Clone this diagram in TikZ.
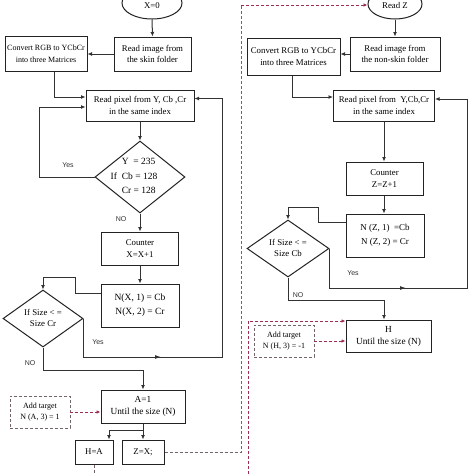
\documentclass[tikz,border=0pt]{standalone}
\usepackage{fontspec}
\setmainfont{Liberation Serif}
\newfontfamily\labfont{Liberation Sans}
\usetikzlibrary{shapes.geometric,arrows.meta,calc,decorations.markings}
\definecolor{linec}{RGB}{50,50,50}
\definecolor{boxc}{RGB}{35,35,35}
\definecolor{dred}{RGB}{155,45,80}
\definecolor{dgray}{RGB}{115,100,108}
\begin{document}
\begin{tikzpicture}[x=1pt,y=-1pt,
  font=\fontsize{8.8}{11.5}\selectfont,
  ln/.style={draw=linec, line width=1pt},
  arr/.style={ln, -{Latex[length=4.5pt,width=4pt]}},
  box/.style={draw=boxc, line width=1pt, fill=white, align=center, inner sep=0pt},
  dbox/.style={draw=dgray, line width=0.9pt, dash pattern=on 3pt off 2pt, align=center, inner sep=0pt, font=\fontsize{8}{10.5}\selectfont},
  dia/.style={diamond, draw=boxc, line width=1pt, inner sep=0pt},
  ell/.style={ellipse, draw=boxc, line width=1pt, inner sep=0pt},
  rdash/.style={draw=dred, line width=0.9pt, dash pattern=on 3pt off 2pt, -{Latex[length=4pt,width=3.5pt]}},
  gdash/.style={draw=dgray, line width=0.9pt, dash pattern=on 3pt off 2pt},
  midarr/.style={postaction={decorate}, decoration={markings, mark=at position 116pt with {\arrow{Latex[length=6pt,width=4pt]}}}},
  lab/.style={font=\labfont\fontsize{7}{8}\selectfont, text=linec, inner sep=0pt},
  dtext/.style={align=center, inner sep=0pt, font=\fontsize{8.8}{11.5}\selectfont}
]
\clip (0,0) rectangle (474,474);
\fill[white] (0,0) rectangle (474,474);

% ---------- left column ----------
\node[ell, minimum width=60, minimum height=32] (e1) at (152,3) {};
\node[inner sep=0pt] (e1t) at (152,6) {X=0};
\node[box, minimum width=77, minimum height=34] (r1) at (152.5,54) {Read image from\\the skin folder};
\node[box, minimum width=82, minimum height=35, font=\fontsize{8}{11.5}\selectfont] (c1) at (46,54) {Convert RGB to YCbCr\\into three Matrices};
\node[box, minimum width=108, minimum height=31] (p1) at (140,105.5) {Read pixel from Y, Cb ,Cr\\in the same index};
\node[dia, minimum width=90, minimum height=72] (d1) at (140,177) {};
\node[inner sep=0pt, font=\fontsize{9.5}{14.5}\selectfont] (d1t) at (134,176.5) {\begin{tabular}{@{}r@{\ \ }l@{}} & Y\ \ = 235\\ If & Cb = 128\\ & Cr = 128\end{tabular}};
\node[box, minimum width=77, minimum height=33] (ct1) at (140,248.5) {Counter\\X=X+1};
\node[box, minimum width=78, minimum height=43, font=\fontsize{9.5}{14}\selectfont] (n1) at (140,305.5) {N(X, 1) = Cb\\N(X, 2) = Cr};
\node[dia, minimum width=80, minimum height=57] (d2) at (43,318.5) {};
\node[dtext] (d2t) at (43,318) {If Size < =\\Size Cr};
\node[box, minimum width=84, minimum height=33, font=\fontsize{9.3}{12}\selectfont] (a1) at (143,406.5) {A=1\\Until the size (N)};
\node[dbox, minimum width=60, minimum height=32] (at1) at (40,412) {Add target\\N (A, 3) = 1};
\node[box, minimum width=38, minimum height=24] (ha) at (94,452) {H=A};
\node[box, minimum width=42, minimum height=24] (zx) at (143,452) {Z=X;};

\node[lab] (y1) at (68,165) {Yes};
\node[lab] (no1) at (121,219) {NO};
\node[lab] (y2) at (98,342) {Yes};
\node[lab] (no2) at (30,363) {NO};

\draw[arr] (e1.south) -- (r1.north);
\draw[arr] (r1.west) -- (c1.east);
\draw[arr] ($(c1.south)+(8,0)$) |- ($(p1.west)+(0,-8.5)$);
\draw[arr] (p1.south) -- (d1.north);
\draw[arr] (d1.west) -- ++(-55,0) |- ($(p1.west)+(0,1.5)$);
\draw[arr] (d1.south) -- (ct1.north);
\draw[arr] (ct1.south) -- (n1.north);
\draw[arr] ($(n1.west)+(0,-12)$) -- ++(-25,0) -- ++(0,-16.5) -| (d2.north);
\draw[arr, midarr] (d2.east) -- ++(0,38.5) -- ++(139,0) |- ($(p1.east)+(0,-7)$);
\draw[arr] (d2.south) -- ++(0,23) -| (a1.north);
\draw[rdash] (at1.east) -- (at1.east -| a1.west);
\draw[arr] (a1.south) -- ++(0,6.5) -| ($(ha.north)+(15,0)$);
\draw[arr] (a1.south) -- (zx.north);

% ---------- right column ----------
\node[ell, minimum width=54, minimum height=30] (e2) at (395,4) {};
\node[inner sep=0pt] (e2t) at (395,5) {Read Z};
\node[box, minimum width=90, minimum height=34] (r2) at (395,54) {Read image from\\the non-skin folder};
\node[box, minimum width=93, minimum height=37] (c2) at (293.5,56.5) {Convert RGB to YCbCr\\into three Matrices};
\node[box, minimum width=101, minimum height=31] (p2) at (384,105.5) {Read pixel from\ \ Y,Cb,Cr\\in the same index};
\node[box, minimum width=77, minimum height=33] (ct2) at (384.5,178.5) {Counter\\Z=Z+1};
\node[box, minimum width=78, minimum height=43, font=\fontsize{9}{13.5}\selectfont] (n2) at (385,235.5) {N (Z, 1)\ \ =Cb\\N (Z, 2) = Cr};
\node[dia, minimum width=82, minimum height=57] (d3) at (288,248.5) {};
\node[dtext] (d3t) at (288,248) {If Size < =\\Size Cb};
\node[box, minimum width=85, minimum height=32, font=\fontsize{9.3}{12}\selectfont] (h2) at (388.5,336) {H\\Until the size (N)};
\node[dbox, minimum width=60, minimum height=32] (at2) at (284,341) {Add target\\N (H, 3) = -1};

\node[lab] (y3) at (353,273) {Yes};
\node[lab] (no3) at (298,295) {NO};

\draw[arr] (e2.south) -- (r2.north);
\draw[arr] (r2.west) -- (r2.west -| c2.east);
\draw[arr] ($(c2.south)+(-1.5,0)$) |- ($(p2.west)+(0,-8.5)$);
\draw[arr] (p2.south) -- (ct2.north -| p2.south);
\draw[arr] (ct2.south -| p2.south) -- (n2.north -| p2.south);
\draw[arr] ($(n2.west)+(0,-13.5)$) -- ++(-27,0) -- ++(0,-15) -| (d3.north);
\draw[arr, midarr] (d3.east) -- ++(0,39.5) -- ++(138,0) |- ($(p2.east)+(0,-6.5)$);
\draw[arr] (d3.south) -- ++(0,23) -| ($(h2.north)+(-4.5,0)$);
\draw[rdash] (at2.east) -- (at2.east -| h2.west);

% ---------- dashed long connectors ----------
\coordinate (bend) at (241,5);
\coordinate (hb) at (94,474);
\coordinate (rb) at (248,474);
\draw[gdash] (zx.east) -| (bend);
\draw[rdash] (bend) -- (bend -| e2.west);
\draw[gdash] (ha.south) -- (hb);
\draw[rdash] (rb) |- ($(h2.north west)+(0,1.5)$);
\end{tikzpicture}
\end{document}
